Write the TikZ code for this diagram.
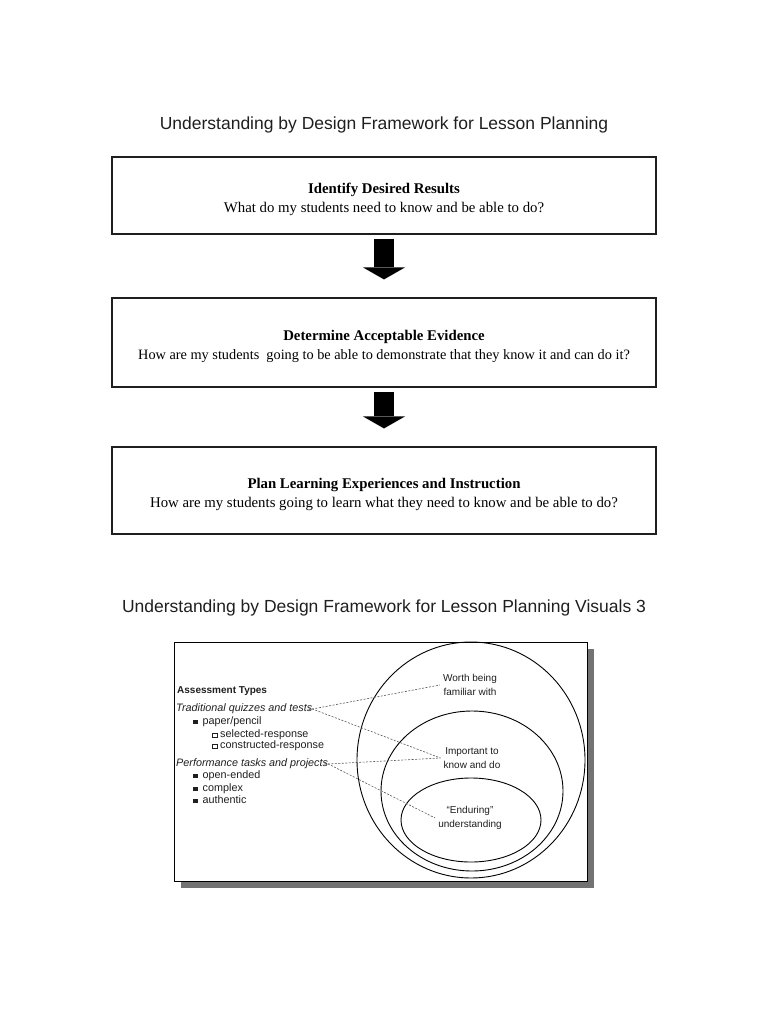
\documentclass[tikz,border=0pt]{standalone}
\usepackage{fontspec}
\setmainfont{Liberation Serif}
\setsansfont{Liberation Sans}
\usetikzlibrary{arrows.meta}
\definecolor{shadowgray}{rgb}{0.45, 0.45, 0.45}
\definecolor{linkgray}{rgb}{0.35, 0.35, 0.35}
\definecolor{inkgray}{rgb}{0.12, 0.12, 0.12}
\newcommand{\fullbox}{\raisebox{0.5pt}{\rule{4.5pt}{4.5pt}}}
\newcommand{\openbox}{\raisebox{0.5pt}{\setlength{\fboxsep}{0pt}\setlength{\fboxrule}{0.5pt}\fbox{\rule{0pt}{4pt}\hspace{4pt}}}}
\newcommand{\toppad}{\rule{0pt}{18pt}}

\begin{document}
\begin{tikzpicture}[x=1pt, y=-1pt,
  title/.style={font=\sffamily\fontsize{17.5}{20}\selectfont, text=inkgray},
  stagebox/.style={draw=inkgray, line width=1.1pt, minimum width=544pt, align=center,
    font=\fontsize{14.8}{19}\selectfont},
  fatarrow/.style={line width=20pt, -{Triangle[width=42pt, length=12pt, line width=0pt]},
    shorten <=4pt, shorten >=18pt},
  item/.style={anchor=west, inner sep=0pt, text=inkgray, font=\sffamily\fontsize{10.8}{12}\selectfont},
  itemhead/.style={item, font=\sffamily\bfseries\fontsize{10}{12}\selectfont},
  itemkind/.style={item, font=\sffamily\itshape\fontsize{10.8}{12}\selectfont},
  ringlabel/.style={align=center, inner sep=3pt, text=inkgray, font=\sffamily\fontsize{10}{14}\selectfont},
  link/.style={linkgray, line width=0.6pt, dash pattern=on 2pt off 1.5pt}]
  \useasboundingbox (0,0) rectangle (768,1024);

  % Framework
  \node[title] (head) at (384,125) {Understanding by Design Framework for Lesson Planning};
  \node[stagebox, minimum height=77pt] (desired) at (384,195.5)
    {\toppad\textbf{Identify Desired Results}\\What do my students need to know and be able to do?};
  \node[stagebox, minimum height=89pt] (evidence) at (384,342.5)
    {\toppad\textbf{Determine Acceptable Evidence}\\{\fontsize{14.3}{19}\selectfont How are my students\ \ going to be able to demonstrate that they know it and can do it?}};
  \node[stagebox, minimum height=87pt] (plan) at (384,490.5)
    {\toppad\textbf{Plan Learning Experiences and Instruction}\\How are my students going to learn what they need to know and be able to do?};
  \draw[fatarrow] (desired) -- (evidence);
  \draw[fatarrow] (evidence) -- (plan);

  % Visuals 3
  \node[title] (visuals) at (384,608) {Understanding by Design Framework for Lesson Planning Visuals 3};
  \fill[shadowgray] (181,649) rectangle (594,888);
  \draw[fill=white, line width=0.9pt] (174,642) rectangle (587,881);
  \draw[line width=0.9pt] (471,760) ellipse [x radius=114, y radius=118];
  \draw[line width=0.9pt] (472,791) ellipse [x radius=91, y radius=80];
  \draw[line width=0.9pt] (471,820) ellipse [x radius=70, y radius=42];

  \node[ringlabel] (worth) at (470,685) {Worth being\\familiar with};
  \node[ringlabel] (important) at (472,758) {Important to\\know and do};
  \node[ringlabel] (enduring) at (470,818) {“Enduring”\\understanding};

  \node[itemhead] (types) at (177,691) {Assessment Types};
  \node[itemkind] (quizzes) at (176,709) {Traditional quizzes and tests};
  \node[item] (paper) at (193,722) {\fullbox\hspace{5pt}paper/pencil};
  \node[item] (selected) at (212,735) {\openbox\hspace{3pt}selected-response};
  \node[item] (constructed) at (212,746) {\openbox\hspace{3pt}constructed-response};
  \node[itemkind] (tasks) at (176,764) {Performance tasks and projects};
  \node[item] (open) at (193,776) {\fullbox\hspace{5pt}open-ended};
  \node[item] (complex) at (193,789) {\fullbox\hspace{5pt}complex};
  \node[item] (authentic) at (193,800) {\fullbox\hspace{5pt}authentic};

  \draw[link, shorten <=-4pt] (quizzes.east) -- (worth.west);
  \draw[link, shorten <=-4pt] (quizzes.east) -- (important.west);
  \draw[link, shorten <=-4pt] (tasks.east) -- (important.west);
  \draw[link, shorten <=-4pt] (tasks.east) -- (enduring.west);
\end{tikzpicture}
\end{document}
